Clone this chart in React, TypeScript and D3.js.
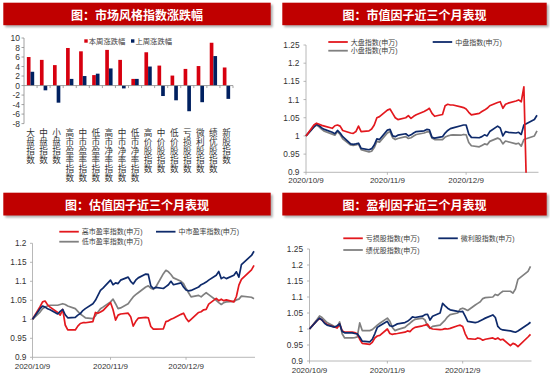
import React from 'react';
import * as d3 from 'd3';

// ---------- Panel 1: bar chart data ----------
const categories = [
  '大盘指数', '中盘指数', '小盘指数', '高市盈率指数', '中市盈率指数', '低市盈率指数',
  '高市净率指数', '中市净率指数', '低市净率指数', '高价股指数', '中价股指数', '低价股指数',
  '亏损股指数', '微利股指数', '绩优股指数', '新股指数',
];
const thisWeekChange = [6.0, 5.4, 4.3, 7.9, 7.2, 2.2, 7.5, 5.4, 1.4, 7.0, 4.2, 2.1, 3.5, 4.1, 9.0, 3.8];
const lastWeekChange = [2.9, -1.0, -3.6, 1.4, 2.0, 2.5, 3.6, -0.6, 1.4, 4.0, -2.2, -3.1, -5.4, -3.5, 6.2, -2.8];
const barTicks = [10, 8, 6, 4, 2, 0, -2, -4, -6, -8];
const barLegend = ['本周涨跌幅', '上周涨跌幅'];

// ---------- Line charts: trading dates (A-share, 2020/10/9 – 2021/1/5) ----------
const tradingDates: Date[] = d3.timeDay
  .range(new Date(2020, 9, 9), new Date(2021, 0, 6))
  .filter((d) => d.getDay() !== 0 && d.getDay() !== 6 && !(d.getMonth() === 0 && d.getDate() === 1));
const dateTickLabels = ['2020/10/9', '2020/11/9', '2020/12/9'];
const ticksTo125 = [0.9, 0.95, 1, 1.05, 1.1, 1.15, 1.2, 1.25];
const ticksTo120 = [0.9, 0.95, 1, 1.05, 1.1, 1.15, 1.2];

// Panel 2: size factor
const largeCap = [1.000,
  1.030, 1.035, 1.032, 1.029, 1.027,
  1.021, 1.028, 1.030, 1.027, 1.015,
  1.008, 1.007, 1.012, 1.027, 1.012,
  1.014, 1.019, 1.030, 1.050, 1.053,
  1.071, 1.074, 1.062, 1.050, 1.045,
  1.050, 1.056, 1.048, 1.054, 1.058,
  1.067, 1.071, 1.076, 1.062, 1.054,
  1.059, 1.083, 1.087, 1.085, 1.085,
  1.080, 1.078, 1.074, 1.065, 1.058,
  1.062, 1.067, 1.071, 1.076, 1.083,
  1.092, 1.094, 1.076, 1.087, 1.090,
  1.096, 1.099, 1.094, 1.135,
  0, 0];
const midCap = [1.000,
  1.025, 1.032, 1.028, 1.022, 1.018,
  1.010, 1.006, 1.015, 1.008, 0.998,
  0.978, 0.977, 0.978, 0.980, 0.966,
  0.962, 0.965, 0.975, 0.992, 0.990,
  1.016, 1.018, 1.000, 0.998, 1.002,
  1.006, 1.000, 1.003, 1.008, 1.012,
  1.014, 1.018, 1.017, 0.996, 0.994,
  0.998, 1.008, 1.015, 1.020, 1.022,
  1.028, 1.030, 1.030, 1.005, 0.996,
  0.995, 0.998, 1.003, 1.000, 1.012,
  1.027, 1.022, 1.000, 1.012, 1.010,
  1.008, 1.010, 1.004, 1.030,
  1.045, 1.057];
const smallCap = [1.000,
  1.024, 1.030, 1.025, 1.018, 1.013,
  1.005, 1.002, 1.012, 1.004, 0.992,
  0.975, 0.974, 0.975, 0.978, 0.962,
  0.956, 0.958, 0.968, 0.985, 0.983,
  1.008, 1.012, 0.995, 0.990, 0.993,
  0.998, 0.993, 0.995, 1.000, 1.004,
  1.008, 1.011, 1.011, 0.994, 0.990,
  0.990, 0.997, 1.000, 1.002, 1.003,
  1.002, 1.004, 1.003, 0.982, 0.973,
  0.970, 0.974, 0.978, 0.976, 0.985,
  0.994, 0.990, 0.978, 0.986, 0.984,
  0.978, 0.980, 0.972, 0.990,
  1.000, 1.014];

// Panel 3: valuation factor
const highPE = [1.000,
  1.033, 1.046, 1.048, 1.038, 1.032,
  1.018, 1.011, 1.026, 0.985, 0.972,
  0.972, 0.982, 0.989, 0.991, 0.991,
  0.994, 1.018, 1.016, 1.019, 1.023,
  1.044, 1.025, 0.998, 1.011, 1.014,
  1.016, 1.007, 0.982, 0.994, 1.003,
  1.005, 1.004, 0.981, 0.974, 0.974,
  0.975, 0.994, 0.996, 1.000, 1.003,
  1.013, 1.016, 1.003, 0.994, 1.000,
  1.018, 1.020, 1.025, 1.026, 1.040,
  1.055, 1.049, 1.053, 1.049, 1.051,
  1.046, 1.060, 1.090, 1.105,
  1.130, 1.142];
const midPE = [1.000,
  1.028, 1.035, 1.032, 1.028, 1.025,
  1.014, 1.021, 1.026, 1.012, 1.004,
  1.005, 1.011, 1.015, 1.023, 1.028,
  1.041, 1.050, 1.063, 1.076, 1.082,
  1.103, 1.091, 1.096, 1.094, 1.103,
  1.111, 1.100, 1.093, 1.103, 1.109,
  1.119, 1.118, 1.088, 1.081, 1.084,
  1.081, 1.086, 1.091, 1.100, 1.091,
  1.096, 1.085, 1.077, 1.075, 1.076,
  1.085, 1.091, 1.094, 1.098, 1.103,
  1.116, 1.126, 1.107, 1.111, 1.107,
  1.116, 1.125, 1.111, 1.144,
  1.168, 1.179];
const lowPE = [1.000,
  1.019, 1.028, 1.032, 1.035, 1.037,
  1.037, 1.039, 1.041, 1.039, 1.035,
  1.028, 1.021, 1.014, 1.009, 1.004,
  1.002, 1.009, 1.019, 1.028, 1.032,
  1.046, 1.053, 1.041, 1.028, 1.030,
  1.041, 1.050, 1.059, 1.065, 1.070,
  1.085, 1.088, 1.082, 1.079, 1.085,
  1.120, 1.129, 1.125, 1.118, 1.109,
  1.100, 1.094, 1.081, 1.070, 1.059,
  1.063, 1.059, 1.065, 1.070, 1.065,
  1.050, 1.044, 1.039, 1.044, 1.046,
  1.047, 1.051, 1.053, 1.061,
  1.058, 1.054];

// Panel 4: profitability factor
const lossStock = [1.000,
  1.026, 1.033, 1.028, 1.020, 1.014,
  1.006, 1.003, 1.015, 0.995, 0.990,
  0.990, 0.989, 0.985, 0.968, 0.955,
  0.952, 0.958, 0.972, 0.978, 0.980,
  1.000, 0.986, 0.983, 0.985, 0.986,
  0.990, 0.994, 0.992, 1.000, 1.005,
  1.010, 1.012, 1.015, 1.003, 1.000,
  0.998, 0.999, 1.001, 1.000, 1.002,
  1.010, 1.012, 1.008, 0.985, 0.970,
  0.968, 0.972, 0.970, 0.965, 0.968,
  0.972, 0.968, 0.972, 0.966, 0.968,
  0.948, 0.955, 0.952, 0.945,
  0.975, 0.983];
const microProfit = [1.000,
  1.026, 1.034, 1.028, 1.018, 1.012,
  1.006, 1.010, 1.016, 0.992, 0.988,
  0.988, 0.986, 0.985, 0.975, 0.962,
  0.960, 0.968, 0.985, 1.005, 1.010,
  1.024, 1.010, 1.008, 1.012, 1.016,
  1.020, 1.024, 1.030, 1.038, 1.036,
  1.040, 1.045, 1.046, 1.028, 1.040,
  1.050, 1.080, 1.072, 1.065, 1.060,
  1.055, 1.054, 1.055, 1.040, 1.024,
  1.020, 1.022, 1.026, 1.030, 1.034,
  1.044, 1.036, 1.008, 1.000, 0.997,
  0.994, 0.992, 0.990, 0.994,
  1.015, 1.021];
const blueChip = [1.000,
  1.030, 1.041, 1.036, 1.028, 1.020,
  1.008, 1.005, 1.022, 0.985, 0.972,
  0.972, 0.973, 0.975, 1.019, 0.995,
  0.995, 0.998, 1.005, 1.012, 1.018,
  1.034, 1.024, 1.005, 0.995, 0.998,
  1.005, 1.012, 1.018, 1.025, 1.030,
  1.034, 1.028, 1.010, 1.002, 1.008,
  1.012, 1.020, 1.028, 1.038, 1.045,
  1.050, 1.062, 1.065, 1.062, 1.058,
  1.075, 1.080, 1.085, 1.095, 1.098,
  1.100, 1.108, 1.105, 1.112, 1.118,
  1.118, 1.112, 1.125, 1.155,
  1.180, 1.196];

const RED = '#E3181E';
const BLUE = '#0E2A6B';
const GRAY = '#808080';
const SANS = '"Liberation Sans", Arial, "Noto Sans CJK SC", sans-serif';
const CJK = '"Noto Sans CJK SC", "Liberation Sans", sans-serif';

function Banner({ x, y, w, h, text }: { x: number; y: number; w: number; h: number; text: string }) {
  return (
    <g>
      <rect x={x + 2} y={y + 2} width={w} height={h} fill="#7a7a7a" opacity={0.6} filter="url(#shadowBlur)" />
      <rect x={x} y={y} width={w} height={h} fill="#C00000" />
      <text x={x + w / 2} y={y + h / 2 + 0.5} textAnchor="middle" dominantBaseline="central" fill="#fff"
        fontSize={12} fontWeight="bold" fontFamily={CJK}>{text}</text>
    </g>
  );
}

function BarPanel() {
  const x = d3.scaleBand<string>().domain(categories).range([24, 233]).padding(0);
  const sub = d3.scaleBand<string>().domain(['a', 'b']).range([0, x.bandwidth()]).paddingInner(0).paddingOuter(0.78);
  const y = d3.scaleLinear().domain([-8, 10]).range([123.6, 38]);
  const y0 = y(0);
  return (
    <g>
      {/* y axis */}
      <line x1={24} x2={24} y1={y(10)} y2={y(-8)} stroke="#8c8c8c" strokeWidth={0.8} />
      {barTicks.map((t) => (
        <g key={t}>
          <line x1={21.5} x2={24} y1={y(t)} y2={y(t)} stroke="#8c8c8c" strokeWidth={0.8} />
          <text x={20} y={y(t)} textAnchor="end" dominantBaseline="central" fontSize={8.5} fontFamily={SANS} fill="#333">{t}</text>
        </g>
      ))}
      {/* bars */}
      {categories.map((c, i) => {
        const v1 = thisWeekChange[i];
        const v2 = lastWeekChange[i];
        const bx = x(c)!;
        return (
          <g key={c}>
            <rect x={bx + sub('a')!} width={sub.bandwidth()} y={Math.min(y(v1), y0)} height={Math.abs(y(v1) - y0)} fill="#D7000F" />
            <rect x={bx + sub('b')!} width={sub.bandwidth()} y={Math.min(y(v2), y0)} height={Math.abs(y(v2) - y0)} fill="#002060" />
          </g>
        );
      })}
      {/* zero axis with category ticks */}
      <line x1={24} x2={233} y1={y0} y2={y0} stroke="#8c8c8c" strokeWidth={0.8} />
      {categories.map((c) => (
        <line key={'t' + c} x1={x(c)! + x.bandwidth()} x2={x(c)! + x.bandwidth()} y1={y0} y2={y0 + 2.5} stroke="#8c8c8c" strokeWidth={0.8} />
      ))}
      {/* vertical category labels */}
      {categories.map((c) => (
        <text key={'l' + c} x={x(c)! + x.bandwidth() / 2} y={128.6}
          style={{ writingMode: 'vertical-rl' as any, letterSpacing: '0.45px' }}
          fontSize={8.6} fontFamily={CJK} fill="#333">{c}</text>
      ))}
      {/* legend */}
      <rect x={84.3} y={39.3} width={3.4} height={3.4} fill="#D7000F" />
      <text x={88.8} y={41.2} dominantBaseline="central" fontSize={7.3} fontFamily={CJK} fill="#404040">{barLegend[0]}</text>
      <rect x={131} y={39.3} width={3.4} height={3.4} fill="#002060" />
      <text x={135.5} y={41.2} dominantBaseline="central" fontSize={7.3} fontFamily={CJK} fill="#404040">{barLegend[1]}</text>
    </g>
  );
}

type LegendItem = { name: string; color: string; lx: number; ly: number };
type LineCfg = {
  id: string;
  x0: number; x1: number; axisEnd: number;
  yTop: number; yBottom: number; yMax: number; yTicks: number[];
  labelRight: number; dateLabelY: number;
  series: { values: number[]; color: string }[];
  legend: LegendItem[];
};

function LinePanel({ cfg }: { cfg: LineCfg }) {
  const x = d3.scaleTime()
    .domain([tradingDates[0], tradingDates[tradingDates.length - 1]])
    .range([cfg.x0, cfg.x1]);
  const y = d3.scaleLinear().domain([0.9, cfg.yMax]).range([cfg.yBottom, cfg.yTop]);
  const line = d3.line<number>().x((_, i) => x(tradingDates[i])).y((v) => y(v));
  const parse = d3.timeParse('%Y/%m/%d');
  return (
    <g>
      <defs>
        <clipPath id={'clip' + cfg.id}>
          <rect x={cfg.x0 - 2} y={cfg.yTop - 10} width={cfg.axisEnd - cfg.x0 + 6} height={cfg.yBottom - cfg.yTop + 10.5} />
        </clipPath>
      </defs>
      {/* y axis */}
      <line x1={cfg.x0} x2={cfg.x0} y1={y(cfg.yMax)} y2={cfg.yBottom} stroke="#a6a6a6" strokeWidth={0.8} />
      {cfg.yTicks.map((t) => (
        <g key={t}>
          <line x1={cfg.x0 - 2.5} x2={cfg.x0} y1={y(t)} y2={y(t)} stroke="#a6a6a6" strokeWidth={0.8} />
          <text x={cfg.labelRight} y={y(t)} textAnchor="end" dominantBaseline="central" fontSize={8.3} fontFamily={SANS} fill="#333">{String(t)}</text>
        </g>
      ))}
      {/* x axis */}
      <line x1={cfg.x0} x2={cfg.axisEnd} y1={cfg.yBottom} y2={cfg.yBottom} stroke="#a6a6a6" strokeWidth={0.8} />
      {dateTickLabels.map((lab) => {
        const px = x(parse(lab)!);
        return (
          <g key={lab}>
            <line x1={px} x2={px} y1={cfg.yBottom} y2={cfg.yBottom + 2.5} stroke="#a6a6a6" strokeWidth={0.8} />
            <text x={px} y={cfg.dateLabelY} textAnchor="middle" dominantBaseline="central" fontSize={8} fontFamily={SANS} fill="#333">{lab}</text>
          </g>
        );
      })}
      {/* lines */}
      <g clipPath={`url(#clip${cfg.id})`}>
        {cfg.series.map((s, i) => (
          <path key={i} d={line(s.values) || ''} fill="none" stroke={s.color} strokeWidth={1.7} strokeLinejoin="round" />
        ))}
      </g>
      {/* legend */}
      {cfg.legend.map((l) => (
        <g key={l.name}>
          <line x1={l.lx} x2={l.lx + 19.5} y1={l.ly} y2={l.ly} stroke={l.color} strokeWidth={1.8} />
          <text x={l.lx + 22.5} y={l.ly} dominantBaseline="central" fontSize={7} fontFamily={SANS} fill="#404040">{l.name}</text>
        </g>
      ))}
    </g>
  );
}

const sizeCfg: LineCfg = {
  id: 'size', x0: 306, x1: 537, axisEnd: 538.5,
  yTop: 45, yBottom: 172.3, yMax: 1.25, yTicks: ticksTo125,
  labelRight: 299.5, dateLabelY: 180.8,
  series: [
    { values: smallCap, color: GRAY },
    { values: midCap, color: BLUE },
    { values: largeCap, color: RED },
  ],
  legend: [
    { name: '大盘指数(申万)', color: RED, lx: 328.3, ly: 42 },
    { name: '中盘指数(申万)', color: BLUE, lx: 432.7, ly: 42 },
    { name: '小盘指数(申万)', color: GRAY, lx: 328.3, ly: 50.7 },
  ],
};
const valueCfg: LineCfg = {
  id: 'value', x0: 32.5, x1: 254, axisEnd: 255,
  yTop: 243.3, yBottom: 357.3, yMax: 1.2, yTicks: ticksTo120,
  labelRight: 26.5, dateLabelY: 366,
  series: [
    { values: lowPE, color: GRAY },
    { values: highPE, color: RED },
    { values: midPE, color: BLUE },
  ],
  legend: [
    { name: '高市盈率指数(申万)', color: RED, lx: 59.3, ly: 231.7 },
    { name: '中市盈率指数(申万)', color: BLUE, lx: 156, ly: 231.7 },
    { name: '低市盈率指数(申万)', color: GRAY, lx: 59.3, ly: 241.7 },
  ],
};
const profitCfg: LineCfg = {
  id: 'profit', x0: 309.5, x1: 530.5, axisEnd: 531.5,
  yTop: 249, yBottom: 361, yMax: 1.25, yTicks: ticksTo125,
  labelRight: 303, dateLabelY: 370,
  series: [
    { values: blueChip, color: GRAY },
    { values: lossStock, color: RED },
    { values: microProfit, color: BLUE },
  ],
  legend: [
    { name: '亏损股指数(申万)', color: RED, lx: 343.3, ly: 238.3 },
    { name: '微利股指数(申万)', color: BLUE, lx: 438.3, ly: 238.3 },
    { name: '绩优股指数(申万)', color: GRAY, lx: 343.3, ly: 250 },
  ],
};

export default function App() {
  React.useEffect(() => {
    document.body.style.margin = '0';
  }, []);
  return (
    <svg width={550} height={376} viewBox="0 0 550 376"
      style={{ position: 'fixed', left: 0, top: 0, background: '#fff', display: 'block' }}>
      <defs>
        <filter id="shadowBlur" x="-10%" y="-30%" width="120%" height="160%">
          <feGaussianBlur stdDeviation={1.2} />
        </filter>
      </defs>
      <rect width={550} height={376} fill="#fff" />
      <Banner x={3.3} y={2.7} w={267.4} h={22.5} text="图：市场风格指数涨跌幅" />
      <Banner x={282.3} y={2.7} w={264.4} h={22.5} text="图：市值因子近三个月表现" />
      <Banner x={3.3} y={192.7} w={267.4} h={22.8} text="图：估值因子近三个月表现" />
      <Banner x={282.3} y={192.7} w={264.4} h={22.8} text="图：盈利因子近三个月表现" />
      <BarPanel />
      <LinePanel cfg={sizeCfg} />
      <LinePanel cfg={valueCfg} />
      <LinePanel cfg={profitCfg} />
    </svg>
  );
}
